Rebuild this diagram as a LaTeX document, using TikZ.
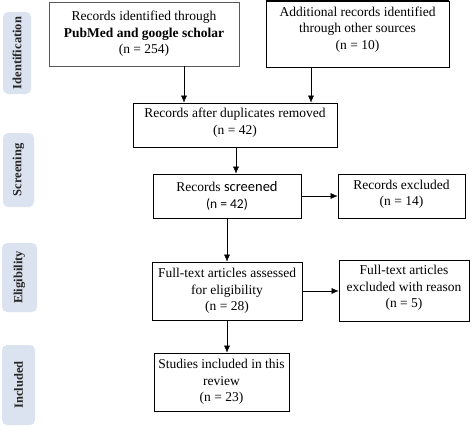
\documentclass[tikz,border=0pt]{standalone}
\usepackage{fontspec}
\setmainfont{Liberation Serif}
\newfontfamily\calib{Carlito}
\usetikzlibrary{arrows.meta,positioning,calc}
\definecolor{phasebg}{RGB}{220,227,240}
\tikzset{
    -{Latex[length=7pt,width=6pt]},semithick,
    box/.style ={rectangle, draw, line width=0.9pt, align=center, inner sep=2pt,
                 font=\fontsize{13.5}{16.5}\selectfont},
    phase/.style = {rectangle, rounded corners=5pt, fill=phasebg, rotate=90,
                    font=\fontsize{12.5}{15}\selectfont\bfseries, text=black!85}
}
\begin{document}
\begin{tikzpicture}[x=1pt,y=-1pt]
    \useasboundingbox (0,0) rectangle (474,426);

    % phases on the left
    \node[phase, minimum width=82pt, minimum height=28pt] (pid) at (17,53) {Identification};
    \node[phase, minimum width=74pt, minimum height=31pt] (pscr) at (18.5,170) {Screening};
    \node[phase, minimum width=69pt, minimum height=35pt] (pel) at (19.5,277.5) {Eligibility};
    \node[phase, minimum width=80pt, minimum height=33pt] (pinc) at (18.5,385) {Included};

    % boxes
    \node[box, draw=black!65, minimum width=190pt, minimum height=64pt] (idb) at (144,34)
        {Records identified through\\ \textbf{PubMed and google scholar}\\ (n = 254)};
    \node[box, minimum width=183pt, minimum height=66pt, text depth=12pt] (src) at (357.5,34)
        {Additional records identified\\ through other sources\\ (n = 10)};
    \node[box, minimum width=204pt, minimum height=44pt, text depth=8pt] (dup) at (235,125)
        {Records after duplicates removed\\ (n = 42)};
    \node[box, minimum width=148pt, minimum height=44pt] (scr) at (227,196)
        {Records {\calib\fontsize{14.5}{16.5}\selectfont screened}\\ {\calib\fontsize{13.5}{18}\selectfont(n = 42)}};
    \node[box, minimum width=127pt, minimum height=44pt, text depth=6pt] (exc) at (401.5,196)
        {Records excluded\\ (n = 14)};
    \node[box, minimum width=150pt, minimum height=58pt] (elig) at (227,291)
        {Full-text articles assessed\\ for eligibility\\ (n = 28)};
    \node[box, minimum width=130pt, minimum height=61pt, text depth=8pt] (exr) at (404,290.5)
        {Full-text articles\\ excluded with reason\\ (n = 5)};
    \node[box, minimum width=135pt, minimum height=58pt] (incl) at (221.5,382)
        {Studies included in this\\ review\\ (n = 23)};
    \draw[-, line width=2.4pt] (src.north west) -- (src.north east);

    % arrows
    \path ([xshift=40pt]idb.south) edge ([xshift=40pt]idb.south |- dup.north);
    \path ([xshift=-46.5pt]src.south) edge ([xshift=-46.5pt]src.south |- dup.north);
    \path ([xshift=1pt]dup.south) edge ([xshift=1pt]dup.south |- scr.north);
    \path (scr.east) edge (scr.east -| exc.west);
    \path (scr.south) edge (elig.north);
    \path (elig.east) edge (elig.east -| exr.west);
    \path (elig.south) edge (elig.south |- incl.north);
\end{tikzpicture}
\end{document}
